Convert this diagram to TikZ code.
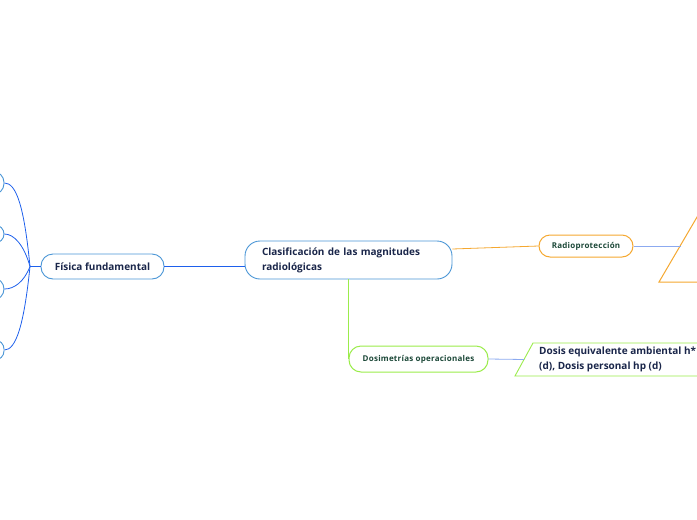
\documentclass[tikz,border=0pt]{standalone}
\usepackage{fontspec}
\setmainfont{Open Sans}
\usepackage{tikz}

\definecolor{navy}{RGB}{26,38,74}
\definecolor{darkgreen}{RGB}{28,72,56}
\definecolor{boxblue}{RGB}{74,150,214}
\definecolor{linkblue}{RGB}{30,96,236}
\definecolor{paleblue}{RGB}{140,170,240}
\definecolor{orangeline}{RGB}{245,168,48}
\definecolor{limegreen}{RGB}{155,236,75}

\begin{document}
\begin{tikzpicture}[x=1pt,y=-1pt,
  mainbox/.style={draw=boxblue,line width=0.9pt,fill=white,rounded corners=15pt,
    text=navy,font=\fontsize{10}{15}\selectfont\bfseries,inner sep=0pt},
  smallbox/.style={line width=1pt,fill=white,text=darkgreen,
    font=\fontsize{8}{9}\selectfont\bfseries\addfontfeatures{LetterSpace=3},inner sep=0pt},
  link/.style={line width=0.8pt}]
\useasboundingbox (0,0) rectangle (697,520);
% centre
\node[mainbox,minimum width=207pt,minimum height=38pt,text width=173pt,align=left] (clas) at (348.5,260) {Clasificación de las magnitudes\\radiológicas};
% left branch
\node[mainbox,rounded corners=12pt,minimum width=123pt,minimum height=25pt] (fis) at (102.5,266.5) {Física fundamental};
\coordinate (fj) at (30,266.5);
\node[mainbox,rounded corners=11pt,minimum width=88pt,minimum height=23pt] (f1) at (-40,183) {};
\node[mainbox,rounded corners=9pt,minimum width=88pt,minimum height=18pt] (f2) at (-40,234) {};
\node[mainbox,rounded corners=11pt,minimum width=88pt,minimum height=22pt] (f3) at (-40,289) {};
\node[mainbox,rounded corners=9pt,minimum width=88pt,minimum height=20pt] (f4) at (-40,350) {};
\draw[link,draw=linkblue] ([yshift=-6.5pt]clas.west) -- (fis.east);
\draw[link,draw=linkblue] (fis.west) -- (fj);
\draw[link,draw=linkblue] (fj) .. controls (24,205) and (16,183) .. (f1.east);
\draw[link,draw=linkblue] (fj) .. controls (24,245) and (14,234) .. (f2.east);
\draw[link,draw=linkblue] (fj) .. controls (24,282) and (14,289) .. (f3.east);
\draw[link,draw=linkblue] (fj) .. controls (24,325) and (16,350) .. (f4.east);
% right branch
\node[smallbox,draw=orangeline,rounded corners=11pt,minimum width=94pt,minimum height=22pt] (rad) at (586,246) {Radioprotección};
\draw[link,draw=orangeline] ([yshift=11pt]clas.east) .. controls (495,247) .. (rad.west);
\draw[line width=1pt,draw=orangeline,fill=white] (659,282) -- (707,200) -- (760,200) -- (760,282) -- cycle;
\coordinate (radr) at (680.5,246);
\draw[link,draw=paleblue] (rad.east) -- (radr);
% lower branch
\node[smallbox,draw=limegreen,rounded corners=12pt,minimum width=139pt,minimum height=26pt] (dos) at (418.5,359) {Dosimetrías operacionales};
\draw[draw=limegreen,line width=1.4pt] (clas.south) |- (dos.west);
\draw[line width=0.9pt,draw=limegreen,fill=white] (515,376) -- (533,343) -- (760,343) -- (760,376) -- cycle;
\coordinate (dosr) at (524,359.5);
\node[anchor=west,text=navy,font=\fontsize{10}{15}\selectfont\bfseries,align=left,inner sep=0pt] (dosis) at (539,359.5) {Dosis equivalente ambiental h*\\(d), Dosis personal hp (d)};
\draw[link,draw=paleblue] (dos.east) -- (dosr);
\end{tikzpicture}
\end{document}
